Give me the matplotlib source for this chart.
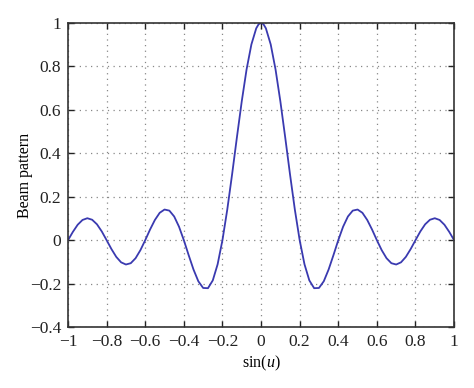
import matplotlib
matplotlib.use('Agg')
import matplotlib.pyplot as plt

# beam pattern, sin(u) from -1 to 1
sin_u = [-1.0, -0.975, -0.95, -0.925, -0.9, -0.875, -0.85, -0.825, -0.8,
         -0.775, -0.75, -0.725, -0.7, -0.675, -0.65, -0.625, -0.6,
         -0.575, -0.55, -0.525, -0.5, -0.475, -0.45, -0.425, -0.4,
         -0.375, -0.35, -0.325, -0.3, -0.275, -0.25, -0.225, -0.2,
         -0.175, -0.15, -0.125, -0.1, -0.075, -0.05, -0.025, -0.0125, 0.0,
         0.0125, 0.025, 0.05, 0.075, 0.1, 0.125, 0.15, 0.175, 0.2,
         0.225, 0.25, 0.275, 0.3, 0.325, 0.35, 0.375, 0.4,
         0.425, 0.45, 0.475, 0.5, 0.525, 0.55, 0.575, 0.6,
         0.625, 0.65, 0.675, 0.7, 0.725, 0.75, 0.775, 0.8,
         0.825, 0.85, 0.875, 0.9, 0.925, 0.95, 0.975, 1.0]
pattern = [0.0, 0.038, 0.071, 0.093, 0.101, 0.094, 0.073, 0.040, 0.0,
           -0.041, -0.077, -0.102, -0.112, -0.106, -0.083, -0.046, 0.0,
           0.049, 0.093, 0.126, 0.141, 0.136, 0.109, 0.062, 0.0,
           -0.069, -0.135, -0.189, -0.220, -0.221, -0.185, -0.111, 0.0,
           0.141, 0.303, 0.474, 0.639, 0.786, 0.901, 0.975, 0.994, 1.0,
           0.994, 0.975, 0.901, 0.786, 0.639, 0.474, 0.303, 0.141, 0.0,
           -0.111, -0.185, -0.221, -0.220, -0.189, -0.135, -0.069, 0.0,
           0.062, 0.109, 0.136, 0.141, 0.126, 0.093, 0.049, 0.0,
           -0.046, -0.083, -0.106, -0.112, -0.102, -0.077, -0.041, 0.0,
           0.040, 0.073, 0.094, 0.101, 0.093, 0.071, 0.038, 0.0]

xticks = [-1, -0.8, -0.6, -0.4, -0.2, 0, 0.2, 0.4, 0.6, 0.8, 1]
yticks = [-0.4, -0.2, 0, 0.2, 0.4, 0.6, 0.8, 1]


def fmt(t):
    return '\u2212' + f'{-t:g}' if t < 0 else f'{t:g}'


plt.rcParams['font.family'] = ['Liberation Serif', 'DejaVu Serif']
plt.rcParams['mathtext.fontset'] = 'custom'
plt.rcParams['mathtext.it'] = 'Liberation Serif:italic'
plt.rcParams['mathtext.rm'] = 'Liberation Serif'

fig = plt.figure(figsize=(4.74, 3.88), dpi=100)
ax = fig.add_axes([0.1435, 0.157, 0.8145, 0.784])

ax.plot(sin_u, pattern, color='#3a3ab0', linewidth=1.3)

ax.set_xlim(-1, 1)
ax.set_ylim(-0.4, 1)
ax.set_xticks(xticks)
ax.set_yticks(yticks)
ax.set_xticklabels([fmt(t) for t in xticks])
ax.set_yticklabels([fmt(t) for t in yticks])
ax.tick_params(direction='in', top=True, right=True, length=4, width=1,
               labelsize=12.5, colors='#222222', pad=5)
for s in ax.spines.values():
    s.set_linewidth(1.2)
    s.set_color('#333333')
ax.grid(True, linestyle=(0, (1, 3.5)), color='#888888', linewidth=0.9)

ax.set_xlabel(r'sin($u$)', fontsize=11.5, labelpad=3)
ax.set_ylabel('Beam pattern', fontsize=11.5)
ax.yaxis.set_label_coords(-0.09, 0.5)

fig.savefig('out.png', dpi=100)
